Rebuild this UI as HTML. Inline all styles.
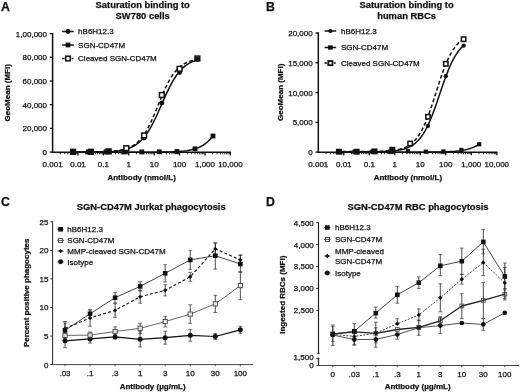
<!DOCTYPE html>
<html><head><meta charset="utf-8"><title>Figure</title>
<style>html,body{margin:0;padding:0;background:#fff}svg{display:block}text{font-family:"Liberation Sans",Arial,sans-serif;stroke:#111;stroke-width:0.25px}</style>
</head><body>
<svg width="520" height="392" viewBox="0 0 520 392">
<rect width="520" height="392" fill="#fff"/>
<text x="1" y="10.6" font-size="12.3" font-weight="bold" fill="#111">A</text>
<text x="142.7" y="7.6" font-size="9.4" text-anchor="middle" font-weight="bold" fill="#111">Saturation binding to</text>
<text x="142.7" y="18.8" font-size="9.4" text-anchor="middle" font-weight="bold" fill="#111">SW780 cells</text>
<line x1="52.6" y1="32.9" x2="52.6" y2="153" stroke="#111" stroke-width="1.5"/>
<line x1="51.9" y1="152.3" x2="231" y2="152.3" stroke="#111" stroke-width="1.5"/>
<line x1="49.8" y1="33.6" x2="52.6" y2="33.6" stroke="#111" stroke-width="1.3"/>
<text x="47" y="36.5" font-size="8" text-anchor="end" fill="#111">1,00,000</text>
<line x1="49.8" y1="57.3" x2="52.6" y2="57.3" stroke="#111" stroke-width="1.3"/>
<text x="47" y="60.2" font-size="8" text-anchor="end" fill="#111">80,000</text>
<line x1="49.8" y1="81" x2="52.6" y2="81" stroke="#111" stroke-width="1.3"/>
<text x="47" y="83.9" font-size="8" text-anchor="end" fill="#111">60,000</text>
<line x1="49.8" y1="104.7" x2="52.6" y2="104.7" stroke="#111" stroke-width="1.3"/>
<text x="47" y="107.6" font-size="8" text-anchor="end" fill="#111">40,000</text>
<line x1="49.8" y1="128.4" x2="52.6" y2="128.4" stroke="#111" stroke-width="1.3"/>
<text x="47" y="131.3" font-size="8" text-anchor="end" fill="#111">20,000</text>
<line x1="49.8" y1="152.1" x2="52.6" y2="152.1" stroke="#111" stroke-width="1.3"/>
<text x="47" y="155" font-size="8" text-anchor="end" fill="#111">0</text>
<text x="52.6" y="166.7" font-size="8" text-anchor="middle" fill="#111">0.001</text>
<text x="78" y="166.7" font-size="8" text-anchor="middle" fill="#111">0.01</text>
<text x="103.4" y="166.7" font-size="8" text-anchor="middle" fill="#111">0.1</text>
<text x="128.8" y="166.7" font-size="8" text-anchor="middle" fill="#111">1</text>
<text x="154.2" y="166.7" font-size="8" text-anchor="middle" fill="#111">10</text>
<text x="179.6" y="166.7" font-size="8" text-anchor="middle" fill="#111">100</text>
<text x="205" y="166.7" font-size="8" text-anchor="middle" fill="#111">1,000</text>
<text x="230.4" y="166.7" font-size="8" text-anchor="middle" fill="#111">10,000</text>
<path d="M78 155.4V152.3M103.4 155.4V152.3M128.8 155.4V152.3M154.2 155.4V152.3M179.6 155.4V152.3M205 155.4V152.3M230.4 155.4V152.3" stroke="#111" stroke-width="1.3" fill="none"/>
<path d="M60.25 154.3V152.3M64.72 154.3V152.3M67.89 154.3V152.3M70.35 154.3V152.3M72.37 154.3V152.3M74.07 154.3V152.3M75.54 154.3V152.3M76.84 154.3V152.3M85.65 154.3V152.3M90.12 154.3V152.3M93.29 154.3V152.3M95.75 154.3V152.3M97.77 154.3V152.3M99.47 154.3V152.3M100.94 154.3V152.3M102.24 154.3V152.3M111.05 154.3V152.3M115.52 154.3V152.3M118.69 154.3V152.3M121.15 154.3V152.3M123.17 154.3V152.3M124.87 154.3V152.3M126.34 154.3V152.3M127.64 154.3V152.3M136.45 154.3V152.3M140.92 154.3V152.3M144.09 154.3V152.3M146.55 154.3V152.3M148.57 154.3V152.3M150.27 154.3V152.3M151.74 154.3V152.3M153.04 154.3V152.3M161.85 154.3V152.3M166.32 154.3V152.3M169.49 154.3V152.3M171.95 154.3V152.3M173.97 154.3V152.3M175.67 154.3V152.3M177.14 154.3V152.3M178.44 154.3V152.3M187.25 154.3V152.3M191.72 154.3V152.3M194.89 154.3V152.3M197.35 154.3V152.3M199.37 154.3V152.3M201.07 154.3V152.3M202.54 154.3V152.3M203.84 154.3V152.3M212.65 154.3V152.3M217.12 154.3V152.3M220.29 154.3V152.3M222.75 154.3V152.3M224.77 154.3V152.3M226.47 154.3V152.3M227.94 154.3V152.3M229.24 154.3V152.3" stroke="#111" stroke-width="0.9" fill="none"/>
<text x="141.6" y="180" font-size="8" text-anchor="middle" font-weight="bold" fill="#111">Antibody (nmol/L)</text>
<text x="10.4" y="92.8" font-size="8" text-anchor="middle" font-weight="bold" fill="#111" transform="rotate(-90 10.4 92.8)">GeoMean (MFI)</text>
<polyline points="70.38,152.28 72.5,152.28 74.61,152.28 76.73,152.27 78.84,152.27 80.96,152.26 83.08,152.25 85.19,152.24 87.31,152.22 89.43,152.21 91.54,152.18 93.66,152.16 95.77,152.13 97.89,152.09 100.01,152.04 102.12,151.98 104.24,151.91 106.36,151.82 108.47,151.72 110.59,151.59 112.7,151.43 114.82,151.24 116.94,151 119.05,150.71 121.17,150.36 123.29,149.93 125.4,149.42 127.52,148.79 129.63,148.04 131.75,147.13 133.87,146.04 135.98,144.74 138.1,143.2 140.22,141.38 142.33,139.26 144.45,136.8 146.56,133.98 148.68,130.79 150.8,127.21 152.91,123.28 155.03,119.03 157.15,114.51 159.26,109.79 161.38,104.97 163.49,100.15 165.61,95.41 167.73,90.86 169.84,86.57 171.96,82.6 174.08,78.98 176.19,75.73 178.31,72.86 180.42,70.36 182.54,68.19 184.66,66.34 186.77,64.77 188.89,63.44 191.01,62.32 193.12,61.39 195.24,60.62 197.35,59.98" fill="none" stroke="#111" stroke-width="1.5" stroke-linejoin="round"/>
<polyline points="70.38,151.89 72.5,151.89 74.61,151.89 76.73,151.88 78.84,151.88 80.96,151.87 83.08,151.87 85.19,151.86 87.31,151.85 89.43,151.83 91.54,151.82 93.66,151.79 95.77,151.77 97.89,151.73 100.01,151.69 102.12,151.64 104.24,151.58 106.36,151.5 108.47,151.4 110.59,151.28 112.7,151.12 114.82,150.93 116.94,150.69 119.05,150.39 121.17,150.03 123.29,149.57 125.4,149.01 127.52,148.31 129.63,147.46 131.75,146.42 133.87,145.15 135.98,143.62 138.1,141.78 140.22,139.59 142.33,137.01 144.45,134.01 146.56,130.56 148.68,126.67 150.8,122.36 152.91,117.69 155.03,112.72 157.15,107.57 159.26,102.36 161.38,97.21 163.49,92.25 165.61,87.58 167.73,83.28 169.84,79.4 171.96,75.96 174.08,72.96 176.19,70.38 178.31,68.2 180.42,66.36 182.54,64.83 184.66,63.57 186.77,62.53 188.89,61.68 191.01,60.99 193.12,60.43 195.24,59.98 197.35,59.61" fill="none" stroke="#111" stroke-width="1.5" stroke-dasharray="3.8,2.4" stroke-linejoin="round"/>
<polyline points="70.38,152.3 72.75,152.3 75.12,152.3 77.49,152.3 79.86,152.3 82.24,152.3 84.61,152.3 86.98,152.3 89.35,152.3 91.72,152.3 94.09,152.3 96.46,152.3 98.83,152.3 101.2,152.3 103.58,152.3 105.95,152.3 108.32,152.3 110.69,152.3 113.06,152.3 115.43,152.3 117.8,152.3 120.17,152.3 122.54,152.3 124.92,152.29 127.29,152.29 129.66,152.29 132.03,152.29 134.4,152.29 136.77,152.28 139.14,152.28 141.51,152.27 143.88,152.27 146.26,152.26 148.63,152.25 151,152.23 153.37,152.22 155.74,152.2 158.11,152.17 160.48,152.14 162.85,152.11 165.22,152.06 167.6,152 169.97,151.93 172.34,151.85 174.71,151.74 177.08,151.6 179.45,151.44 181.82,151.23 184.19,150.98 186.56,150.66 188.94,150.27 191.31,149.79 193.68,149.2 196.05,148.48 198.42,147.58 200.79,146.49 203.16,145.15 205.53,143.53 207.9,141.55 210.28,139.17 212.65,136.3" fill="none" stroke="#111" stroke-width="1.5" stroke-linejoin="round"/>
<circle cx="73.08" cy="152" r="2.45" fill="#111"/>
<circle cx="90.83" cy="152" r="2.45" fill="#111"/>
<circle cx="108.58" cy="151.8" r="2.45" fill="#111"/>
<circle cx="126.34" cy="149.5" r="2.45" fill="#111"/>
<circle cx="144.09" cy="138" r="2.45" fill="#111"/>
<circle cx="161.85" cy="103" r="2.45" fill="#111"/>
<circle cx="179.6" cy="72.5" r="2.45" fill="#111"/>
<circle cx="197.35" cy="59.3" r="2.45" fill="#111"/>
<rect x="85.9" y="149.5" width="4.8" height="4.8" fill="#111"/>
<rect x="103.7" y="149.5" width="4.8" height="4.8" fill="#111"/>
<rect x="121.6" y="149.5" width="4.8" height="4.8" fill="#111"/>
<rect x="139.35" y="149.5" width="4.8" height="4.8" fill="#111"/>
<rect x="156.85" y="149.4" width="4.8" height="4.8" fill="#111"/>
<rect x="174.6" y="149.1" width="4.8" height="4.8" fill="#111"/>
<rect x="192.6" y="146.4" width="4.8" height="4.8" fill="#111"/>
<rect x="210.6" y="133.6" width="4.8" height="4.8" fill="#111"/>
<rect x="70.68" y="149.4" width="4.8" height="4.8" fill="#111" stroke="#111" stroke-width="1.5"/>
<rect x="88.43" y="149.4" width="4.8" height="4.8" fill="#111" stroke="#111" stroke-width="1.5"/>
<rect x="106.18" y="149" width="4.8" height="4.8" fill="#111" stroke="#111" stroke-width="1.5"/>
<rect x="123.94" y="145.8" width="4.8" height="4.8" fill="#fff" stroke="#111" stroke-width="1.5"/>
<rect x="141.69" y="133.1" width="4.8" height="4.8" fill="#fff" stroke="#111" stroke-width="1.5"/>
<rect x="159.45" y="92.6" width="4.8" height="4.8" fill="#fff" stroke="#111" stroke-width="1.5"/>
<rect x="177.2" y="66.4" width="4.8" height="4.8" fill="#fff" stroke="#111" stroke-width="1.5"/>
<rect x="194.95" y="56.1" width="4.8" height="4.8" fill="none" stroke="#111" stroke-width="1.5"/>
<line x1="62.2" y1="31.5" x2="73.8" y2="31.5" stroke="#111" stroke-width="1.5"/>
<circle cx="68" cy="31.5" r="2.4" fill="#111"/>
<text x="78.1" y="34.4" font-size="8" fill="#111">hB6H12.3</text>
<line x1="62.2" y1="45" x2="73.8" y2="45" stroke="#111" stroke-width="1.5"/>
<rect x="65.65" y="42.65" width="4.7" height="4.7" fill="#111"/>
<text x="78.1" y="47.9" font-size="8" fill="#111">SGN-CD47M</text>
<line x1="62.2" y1="58.5" x2="64.6" y2="58.5" stroke="#111" stroke-width="1.5"/>
<line x1="71.6" y1="58.5" x2="73.4" y2="58.5" stroke="#111" stroke-width="1.5"/>
<rect x="65.7" y="56.2" width="4.6" height="4.6" fill="#fff" stroke="#111" stroke-width="1.5"/>
<text x="78.1" y="61.4" font-size="8" fill="#111">Cleaved SGN-CD47M</text>
<text x="266" y="10.6" font-size="12.3" font-weight="bold" fill="#111">B</text>
<text x="406.6" y="7.6" font-size="9.4" text-anchor="middle" font-weight="bold" fill="#111">Saturation binding to</text>
<text x="406.6" y="18.8" font-size="9.4" text-anchor="middle" font-weight="bold" fill="#111">human RBCs</text>
<line x1="318.3" y1="32.3" x2="318.3" y2="152.9" stroke="#111" stroke-width="1.5"/>
<line x1="317.6" y1="152.2" x2="497.4" y2="152.2" stroke="#111" stroke-width="1.5"/>
<line x1="315.5" y1="33" x2="318.3" y2="33" stroke="#111" stroke-width="1.3"/>
<text x="312.7" y="35.9" font-size="8" text-anchor="end" fill="#111">20,000</text>
<line x1="315.5" y1="62.8" x2="318.3" y2="62.8" stroke="#111" stroke-width="1.3"/>
<text x="312.7" y="65.7" font-size="8" text-anchor="end" fill="#111">15,000</text>
<line x1="315.5" y1="92.6" x2="318.3" y2="92.6" stroke="#111" stroke-width="1.3"/>
<text x="312.7" y="95.5" font-size="8" text-anchor="end" fill="#111">10,000</text>
<line x1="315.5" y1="122.4" x2="318.3" y2="122.4" stroke="#111" stroke-width="1.3"/>
<text x="312.7" y="125.3" font-size="8" text-anchor="end" fill="#111">5,000</text>
<line x1="315.5" y1="152.1" x2="318.3" y2="152.1" stroke="#111" stroke-width="1.3"/>
<text x="312.7" y="155" font-size="8" text-anchor="end" fill="#111">0</text>
<text x="318.3" y="166.7" font-size="8" text-anchor="middle" fill="#111">0.001</text>
<text x="343.8" y="166.7" font-size="8" text-anchor="middle" fill="#111">0.01</text>
<text x="369.3" y="166.7" font-size="8" text-anchor="middle" fill="#111">0.1</text>
<text x="394.8" y="166.7" font-size="8" text-anchor="middle" fill="#111">1</text>
<text x="420.3" y="166.7" font-size="8" text-anchor="middle" fill="#111">10</text>
<text x="445.8" y="166.7" font-size="8" text-anchor="middle" fill="#111">100</text>
<text x="471.3" y="166.7" font-size="8" text-anchor="middle" fill="#111">1,000</text>
<text x="496.8" y="166.7" font-size="8" text-anchor="middle" fill="#111">10,000</text>
<path d="M343.8 155.3V152.2M369.3 155.3V152.2M394.8 155.3V152.2M420.3 155.3V152.2M445.8 155.3V152.2M471.3 155.3V152.2M496.8 155.3V152.2" stroke="#111" stroke-width="1.3" fill="none"/>
<path d="M325.98 154.2V152.2M330.47 154.2V152.2M333.65 154.2V152.2M336.12 154.2V152.2M338.14 154.2V152.2M339.85 154.2V152.2M341.33 154.2V152.2M342.63 154.2V152.2M351.48 154.2V152.2M355.97 154.2V152.2M359.15 154.2V152.2M361.62 154.2V152.2M363.64 154.2V152.2M365.35 154.2V152.2M366.83 154.2V152.2M368.13 154.2V152.2M376.98 154.2V152.2M381.47 154.2V152.2M384.65 154.2V152.2M387.12 154.2V152.2M389.14 154.2V152.2M390.85 154.2V152.2M392.33 154.2V152.2M393.63 154.2V152.2M402.48 154.2V152.2M406.97 154.2V152.2M410.15 154.2V152.2M412.62 154.2V152.2M414.64 154.2V152.2M416.35 154.2V152.2M417.83 154.2V152.2M419.13 154.2V152.2M427.98 154.2V152.2M432.47 154.2V152.2M435.65 154.2V152.2M438.12 154.2V152.2M440.14 154.2V152.2M441.85 154.2V152.2M443.33 154.2V152.2M444.63 154.2V152.2M453.48 154.2V152.2M457.97 154.2V152.2M461.15 154.2V152.2M463.62 154.2V152.2M465.64 154.2V152.2M467.35 154.2V152.2M468.83 154.2V152.2M470.13 154.2V152.2M478.98 154.2V152.2M483.47 154.2V152.2M486.65 154.2V152.2M489.12 154.2V152.2M491.14 154.2V152.2M492.85 154.2V152.2M494.33 154.2V152.2M495.63 154.2V152.2" stroke="#111" stroke-width="0.9" fill="none"/>
<text x="407.9" y="180" font-size="8" text-anchor="middle" font-weight="bold" fill="#111">Antibody (nmol/L)</text>
<text x="282.8" y="92.3" font-size="8" text-anchor="middle" font-weight="bold" fill="#111" transform="rotate(-90 282.8 92.3)">GeoMean (MFI)</text>
<polyline points="336.15,151.9 338.27,151.9 340.4,151.9 342.52,151.89 344.65,151.89 346.77,151.89 348.9,151.89 351.02,151.89 353.15,151.88 355.27,151.88 357.4,151.87 359.52,151.87 361.64,151.86 363.77,151.85 365.89,151.84 368.02,151.83 370.14,151.81 372.27,151.79 374.39,151.76 376.52,151.72 378.64,151.68 380.77,151.63 382.89,151.56 385.01,151.48 387.14,151.37 389.26,151.25 391.39,151.09 393.51,150.89 395.64,150.65 397.76,150.35 399.89,149.98 402.01,149.52 404.14,148.96 406.26,148.27 408.39,147.42 410.51,146.38 412.63,145.12 414.76,143.59 416.88,141.74 419.01,139.54 421.13,136.92 423.26,133.84 425.38,130.27 427.51,126.18 429.63,121.57 431.76,116.46 433.88,110.9 436,104.97 438.13,98.81 440.25,92.53 442.38,86.29 444.5,80.23 446.63,74.48 448.75,69.15 450.88,64.28 453,59.94 455.13,56.12 457.25,52.81 459.37,49.98 461.5,47.58 463.62,45.56" fill="none" stroke="#111" stroke-width="1.5" stroke-linejoin="round"/>
<polyline points="336.15,151.6 338.27,151.6 340.4,151.6 342.52,151.59 344.65,151.59 346.77,151.59 348.9,151.59 351.02,151.59 353.15,151.58 355.27,151.58 357.4,151.57 359.52,151.57 361.64,151.56 363.77,151.55 365.89,151.53 368.02,151.51 370.14,151.49 372.27,151.47 374.39,151.43 376.52,151.39 378.64,151.34 380.77,151.27 382.89,151.18 385.01,151.08 387.14,150.95 389.26,150.79 391.39,150.58 393.51,150.33 395.64,150.01 397.76,149.61 399.89,149.12 402.01,148.51 404.14,147.75 406.26,146.82 408.39,145.67 410.51,144.26 412.63,142.54 414.76,140.47 416.88,137.97 419.01,135.01 421.13,131.52 423.26,127.47 425.38,122.84 427.51,117.65 429.63,111.93 431.76,105.77 433.88,99.29 436,92.63 438.13,85.97 440.25,79.46 442.38,73.26 444.5,67.5 446.63,62.25 448.75,57.56 450.88,53.46 453,49.92 455.13,46.9 457.25,44.36 459.37,42.25 461.5,40.5 463.62,39.06" fill="none" stroke="#111" stroke-width="1.5" stroke-dasharray="3.8,2.4" stroke-linejoin="round"/>
<polyline points="336.15,152.2 338.53,152.2 340.91,152.2 343.29,152.2 345.67,152.2 348.05,152.2 350.43,152.2 352.81,152.2 355.19,152.2 357.57,152.2 359.95,152.2 362.33,152.2 364.72,152.2 367.1,152.2 369.48,152.2 371.86,152.2 374.24,152.2 376.62,152.2 379,152.2 381.38,152.2 383.76,152.2 386.14,152.2 388.52,152.2 390.9,152.2 393.28,152.2 395.66,152.2 398.04,152.19 400.42,152.19 402.8,152.19 405.18,152.19 407.56,152.19 409.94,152.18 412.32,152.18 414.7,152.17 417.08,152.17 419.47,152.16 421.85,152.15 424.23,152.14 426.61,152.12 428.99,152.11 431.37,152.08 433.75,152.06 436.13,152.02 438.51,151.98 440.89,151.93 443.27,151.86 445.65,151.78 448.03,151.68 450.41,151.56 452.79,151.4 455.17,151.22 457.55,150.98 459.93,150.69 462.31,150.34 464.69,149.9 467.07,149.36 469.45,148.7 471.83,147.89 474.22,146.91 476.6,145.71 478.98,144.25" fill="none" stroke="#111" stroke-width="1.5" stroke-linejoin="round"/>
<circle cx="338.86" cy="152" r="2.156" fill="#111"/>
<circle cx="356.68" cy="152" r="2.156" fill="#111"/>
<circle cx="374.51" cy="151.9" r="2.156" fill="#111"/>
<circle cx="392.33" cy="151.4" r="2.156" fill="#111"/>
<circle cx="410.15" cy="144.75" r="2.156" fill="#111"/>
<circle cx="427.98" cy="126" r="2.156" fill="#111"/>
<circle cx="445.8" cy="76.25" r="2.156" fill="#111"/>
<circle cx="463.62" cy="45.7" r="2.156" fill="#111"/>
<rect x="352.39" y="149.59" width="4.22" height="4.22" fill="#111"/>
<rect x="370.19" y="149.59" width="4.22" height="4.22" fill="#111"/>
<rect x="387.99" y="149.49" width="4.22" height="4.22" fill="#111"/>
<rect x="405.89" y="149.09" width="4.22" height="4.22" fill="#111"/>
<rect x="423.69" y="149.59" width="4.22" height="4.22" fill="#111"/>
<rect x="441.39" y="149.39" width="4.22" height="4.22" fill="#111"/>
<rect x="459.29" y="147.89" width="4.22" height="4.22" fill="#111"/>
<rect x="477.09" y="142.14" width="4.22" height="4.22" fill="#111"/>
<rect x="336.66" y="149.5" width="4.4" height="4.4" fill="#111" stroke="#111" stroke-width="1.5"/>
<rect x="354.48" y="149.5" width="4.4" height="4.4" fill="#111" stroke="#111" stroke-width="1.5"/>
<rect x="372.31" y="149.2" width="4.4" height="4.4" fill="#111" stroke="#111" stroke-width="1.5"/>
<rect x="390.13" y="147.5" width="4.4" height="4.4" fill="#111" stroke="#111" stroke-width="1.5"/>
<rect x="407.95" y="141.3" width="4.4" height="4.4" fill="#fff" stroke="#111" stroke-width="1.5"/>
<rect x="425.78" y="114.55" width="4.4" height="4.4" fill="#fff" stroke="#111" stroke-width="1.5"/>
<rect x="443.6" y="61.6" width="4.4" height="4.4" fill="#fff" stroke="#111" stroke-width="1.5"/>
<rect x="461.42" y="37" width="4.4" height="4.4" fill="#fff" stroke="#111" stroke-width="1.5"/>
<line x1="324.6" y1="31" x2="336.2" y2="31" stroke="#111" stroke-width="1.5"/>
<circle cx="330.4" cy="31" r="2.112" fill="#111"/>
<text x="341" y="33.9" font-size="8" fill="#111">hB6H12.3</text>
<line x1="324.6" y1="47.5" x2="336.2" y2="47.5" stroke="#111" stroke-width="1.5"/>
<rect x="328.05" y="45.35" width="4.7" height="4.3" fill="#111"/>
<text x="341" y="50.4" font-size="8" fill="#111">SGN-CD47M</text>
<line x1="324.6" y1="63.1" x2="327" y2="63.1" stroke="#111" stroke-width="1.5"/>
<line x1="334" y1="63.1" x2="335.8" y2="63.1" stroke="#111" stroke-width="1.5"/>
<rect x="328.3" y="61" width="4.2" height="4.2" fill="#fff" stroke="#111" stroke-width="1.8"/>
<text x="341" y="66" font-size="8" fill="#111">Cleaved SGN-CD47M</text>
<text x="1" y="206" font-size="12.3" font-weight="bold" fill="#111">C</text>
<text x="151.2" y="209.8" font-size="9.4" text-anchor="middle" font-weight="bold" fill="#111">SGN-CD47M Jurkat phagocytosis</text>
<line x1="52.6" y1="221.5" x2="52.6" y2="365" stroke="#222" stroke-width="1.0"/>
<line x1="52.1" y1="364.6" x2="253" y2="364.6" stroke="#333" stroke-width="0.9"/>
<line x1="50.3" y1="364.6" x2="52.6" y2="364.6" stroke="#222" stroke-width="0.9"/>
<text x="48.4" y="367.5" font-size="8" text-anchor="end" fill="#111">0</text>
<line x1="50.3" y1="336.05" x2="52.6" y2="336.05" stroke="#222" stroke-width="0.9"/>
<text x="48.4" y="338.95" font-size="8" text-anchor="end" fill="#111">5</text>
<line x1="50.3" y1="307.5" x2="52.6" y2="307.5" stroke="#222" stroke-width="0.9"/>
<text x="48.4" y="310.4" font-size="8" text-anchor="end" fill="#111">10</text>
<line x1="50.3" y1="278.95" x2="52.6" y2="278.95" stroke="#222" stroke-width="0.9"/>
<text x="48.4" y="281.85" font-size="8" text-anchor="end" fill="#111">15</text>
<line x1="50.3" y1="250.4" x2="52.6" y2="250.4" stroke="#222" stroke-width="0.9"/>
<text x="48.4" y="253.3" font-size="8" text-anchor="end" fill="#111">20</text>
<line x1="50.3" y1="221.85" x2="52.6" y2="221.85" stroke="#222" stroke-width="0.9"/>
<text x="48.4" y="224.75" font-size="8" text-anchor="end" fill="#111">25</text>
<line x1="65" y1="364.6" x2="65" y2="366.3" stroke="#333" stroke-width="0.8"/>
<text x="65" y="376.2" font-size="8" text-anchor="middle" fill="#111">.03</text>
<line x1="90.05" y1="364.6" x2="90.05" y2="366.3" stroke="#333" stroke-width="0.8"/>
<text x="90.05" y="376.2" font-size="8" text-anchor="middle" fill="#111">.1</text>
<line x1="115.1" y1="364.6" x2="115.1" y2="366.3" stroke="#333" stroke-width="0.8"/>
<text x="115.1" y="376.2" font-size="8" text-anchor="middle" fill="#111">.3</text>
<line x1="140.15" y1="364.6" x2="140.15" y2="366.3" stroke="#333" stroke-width="0.8"/>
<text x="140.15" y="376.2" font-size="8" text-anchor="middle" fill="#111">1</text>
<line x1="165.2" y1="364.6" x2="165.2" y2="366.3" stroke="#333" stroke-width="0.8"/>
<text x="165.2" y="376.2" font-size="8" text-anchor="middle" fill="#111">3</text>
<line x1="190.25" y1="364.6" x2="190.25" y2="366.3" stroke="#333" stroke-width="0.8"/>
<text x="190.25" y="376.2" font-size="8" text-anchor="middle" fill="#111">10</text>
<line x1="215.3" y1="364.6" x2="215.3" y2="366.3" stroke="#333" stroke-width="0.8"/>
<text x="215.3" y="376.2" font-size="8" text-anchor="middle" fill="#111">30</text>
<line x1="240.35" y1="364.6" x2="240.35" y2="366.3" stroke="#333" stroke-width="0.8"/>
<text x="240.35" y="376.2" font-size="8" text-anchor="middle" fill="#111">100</text>
<text x="152.6" y="389.3" font-size="8" text-anchor="middle" font-weight="bold" fill="#111">Antibody (µg/mL)</text>
<text x="29.5" y="292.8" font-size="8" text-anchor="middle" font-weight="bold" fill="#111" transform="rotate(-90 29.5 292.8)">Percent positive phagocytes</text>
<path d="M65 323V337.6" stroke="#2a2a2a" stroke-width="0.85" fill="none"/>
<path d="M63.1 323H66.9M63.1 337.6H66.9" stroke="#444" stroke-width="0.75" fill="none"/>
<path d="M90.05 309.7V317.9" stroke="#2a2a2a" stroke-width="0.85" fill="none"/>
<path d="M88.15 309.7H91.95M88.15 317.9H91.95" stroke="#444" stroke-width="0.75" fill="none"/>
<path d="M115.1 292.3V303.1" stroke="#2a2a2a" stroke-width="0.85" fill="none"/>
<path d="M113.2 292.3H117M113.2 303.1H117" stroke="#444" stroke-width="0.75" fill="none"/>
<path d="M140.15 281.8V291" stroke="#2a2a2a" stroke-width="0.85" fill="none"/>
<path d="M138.25 281.8H142.05M138.25 291H142.05" stroke="#444" stroke-width="0.75" fill="none"/>
<path d="M165.2 264.7V281.9" stroke="#2a2a2a" stroke-width="0.85" fill="none"/>
<path d="M163.3 264.7H167.1M163.3 281.9H167.1" stroke="#444" stroke-width="0.75" fill="none"/>
<path d="M190.25 250.4V269.4" stroke="#2a2a2a" stroke-width="0.85" fill="none"/>
<path d="M188.35 250.4H192.15M188.35 269.4H192.15" stroke="#444" stroke-width="0.75" fill="none"/>
<path d="M215.3 242.3V269.1" stroke="#2a2a2a" stroke-width="0.85" fill="none"/>
<path d="M213.4 242.3H217.2M213.4 269.1H217.2" stroke="#444" stroke-width="0.75" fill="none"/>
<path d="M240.35 255.5V272.5" stroke="#2a2a2a" stroke-width="0.85" fill="none"/>
<path d="M238.45 255.5H242.25M238.45 272.5H242.25" stroke="#444" stroke-width="0.75" fill="none"/>
<path d="M65 331.9V338.9" stroke="#2a2a2a" stroke-width="0.85" fill="none"/>
<path d="M63.1 331.9H66.9M63.1 338.9H66.9" stroke="#444" stroke-width="0.75" fill="none"/>
<path d="M90.05 332.1V338.1" stroke="#2a2a2a" stroke-width="0.85" fill="none"/>
<path d="M88.15 332.1H91.95M88.15 338.1H91.95" stroke="#444" stroke-width="0.75" fill="none"/>
<path d="M115.1 326.9V336.1" stroke="#2a2a2a" stroke-width="0.85" fill="none"/>
<path d="M113.2 326.9H117M113.2 336.1H117" stroke="#444" stroke-width="0.75" fill="none"/>
<path d="M140.15 323.2V333.4" stroke="#2a2a2a" stroke-width="0.85" fill="none"/>
<path d="M138.25 323.2H142.05M138.25 333.4H142.05" stroke="#444" stroke-width="0.75" fill="none"/>
<path d="M165.2 316.3V326.9" stroke="#2a2a2a" stroke-width="0.85" fill="none"/>
<path d="M163.3 316.3H167.1M163.3 326.9H167.1" stroke="#444" stroke-width="0.75" fill="none"/>
<path d="M190.25 304.8V323.4" stroke="#2a2a2a" stroke-width="0.85" fill="none"/>
<path d="M188.35 304.8H192.15M188.35 323.4H192.15" stroke="#444" stroke-width="0.75" fill="none"/>
<path d="M215.3 295.3V312.5" stroke="#2a2a2a" stroke-width="0.85" fill="none"/>
<path d="M213.4 295.3H217.2M213.4 312.5H217.2" stroke="#444" stroke-width="0.75" fill="none"/>
<path d="M240.35 271.5V299.7" stroke="#2a2a2a" stroke-width="0.85" fill="none"/>
<path d="M238.45 271.5H242.25M238.45 299.7H242.25" stroke="#444" stroke-width="0.75" fill="none"/>
<path d="M65 321.5V335.5" stroke="#2a2a2a" stroke-width="0.85" fill="none"/>
<path d="M63.1 321.5H66.9M63.1 335.5H66.9" stroke="#444" stroke-width="0.75" fill="none"/>
<path d="M90.05 309.8V326.2" stroke="#2a2a2a" stroke-width="0.85" fill="none"/>
<path d="M88.15 309.8H91.95M88.15 326.2H91.95" stroke="#444" stroke-width="0.75" fill="none"/>
<path d="M115.1 303.3V317.3" stroke="#2a2a2a" stroke-width="0.85" fill="none"/>
<path d="M113.2 303.3H117M113.2 317.3H117" stroke="#444" stroke-width="0.75" fill="none"/>
<path d="M140.15 290.4V303.2" stroke="#2a2a2a" stroke-width="0.85" fill="none"/>
<path d="M138.25 290.4H142.05M138.25 303.2H142.05" stroke="#444" stroke-width="0.75" fill="none"/>
<path d="M165.2 284.7V295.9" stroke="#2a2a2a" stroke-width="0.85" fill="none"/>
<path d="M163.3 284.7H167.1M163.3 295.9H167.1" stroke="#444" stroke-width="0.75" fill="none"/>
<path d="M190.25 272.3V281.3" stroke="#2a2a2a" stroke-width="0.85" fill="none"/>
<path d="M188.35 272.3H192.15M188.35 281.3H192.15" stroke="#444" stroke-width="0.75" fill="none"/>
<path d="M215.3 243.3V254.5" stroke="#2a2a2a" stroke-width="0.85" fill="none"/>
<path d="M213.4 243.3H217.2M213.4 254.5H217.2" stroke="#444" stroke-width="0.75" fill="none"/>
<path d="M240.35 254.8V265" stroke="#2a2a2a" stroke-width="0.85" fill="none"/>
<path d="M238.45 254.8H242.25M238.45 265H242.25" stroke="#444" stroke-width="0.75" fill="none"/>
<path d="M65 333.9V347.7" stroke="#2a2a2a" stroke-width="0.85" fill="none"/>
<path d="M63.1 333.9H66.9M63.1 347.7H66.9" stroke="#444" stroke-width="0.75" fill="none"/>
<path d="M90.05 334.7V343.1" stroke="#2a2a2a" stroke-width="0.85" fill="none"/>
<path d="M88.15 334.7H91.95M88.15 343.1H91.95" stroke="#444" stroke-width="0.75" fill="none"/>
<path d="M115.1 334.9V338.9" stroke="#2a2a2a" stroke-width="0.85" fill="none"/>
<path d="M113.2 334.9H117M113.2 338.9H117" stroke="#444" stroke-width="0.75" fill="none"/>
<path d="M140.15 331.7V346.9" stroke="#2a2a2a" stroke-width="0.85" fill="none"/>
<path d="M138.25 331.7H142.05M138.25 346.9H142.05" stroke="#444" stroke-width="0.75" fill="none"/>
<path d="M165.2 331.2V344.2" stroke="#2a2a2a" stroke-width="0.85" fill="none"/>
<path d="M163.3 331.2H167.1M163.3 344.2H167.1" stroke="#444" stroke-width="0.75" fill="none"/>
<path d="M190.25 329.4V341.2" stroke="#2a2a2a" stroke-width="0.85" fill="none"/>
<path d="M188.35 329.4H192.15M188.35 341.2H192.15" stroke="#444" stroke-width="0.75" fill="none"/>
<path d="M215.3 333.5V339.5" stroke="#2a2a2a" stroke-width="0.85" fill="none"/>
<path d="M213.4 333.5H217.2M213.4 339.5H217.2" stroke="#444" stroke-width="0.75" fill="none"/>
<path d="M240.35 326.3V333.3" stroke="#2a2a2a" stroke-width="0.85" fill="none"/>
<path d="M238.45 326.3H242.25M238.45 333.3H242.25" stroke="#444" stroke-width="0.75" fill="none"/>
<polyline points="65,330.3 90.05,313.8 115.1,297.7 140.15,286.4 165.2,273.3 190.25,259.9 215.3,255.7 240.35,264" fill="none" stroke="#333" stroke-width="0.9" stroke-linejoin="round"/>
<polyline points="65,335.4 90.05,335.1 115.1,331.5 140.15,328.3 165.2,321.6 190.25,314.1 215.3,303.9 240.35,285.6" fill="none" stroke="#555" stroke-width="0.9" stroke-linejoin="round"/>
<polyline points="65,328.5 90.05,318 115.1,310.3 140.15,296.8 165.2,290.3 190.25,276.8 215.3,248.9 240.35,259.9" fill="none" stroke="#111" stroke-width="1.1" stroke-dasharray="3,2.1" stroke-linejoin="round"/>
<polyline points="65,340.8 90.05,338.9 115.1,336.9 140.15,339.3 165.2,337.7 190.25,335.3 215.3,336.5 240.35,329.8" fill="none" stroke="#111" stroke-width="1.2" stroke-linejoin="round"/>
<circle cx="65" cy="340.8" r="2.5" fill="#111"/>
<circle cx="90.05" cy="338.9" r="2.5" fill="#111"/>
<circle cx="115.1" cy="336.9" r="2.5" fill="#111"/>
<circle cx="140.15" cy="339.3" r="2.5" fill="#111"/>
<circle cx="165.2" cy="337.7" r="2.5" fill="#111"/>
<circle cx="190.25" cy="335.3" r="2.5" fill="#111"/>
<circle cx="215.3" cy="336.5" r="2.5" fill="#111"/>
<circle cx="240.35" cy="329.8" r="2.5" fill="#111"/>
<rect x="62.9" y="333.3" width="4.2" height="4.2" fill="rgba(255,255,255,0.8)" stroke="#444" stroke-width="0.9"/>
<rect x="87.95" y="333" width="4.2" height="4.2" fill="rgba(255,255,255,0.8)" stroke="#444" stroke-width="0.9"/>
<rect x="113" y="329.4" width="4.2" height="4.2" fill="rgba(255,255,255,0.8)" stroke="#444" stroke-width="0.9"/>
<rect x="138.05" y="326.2" width="4.2" height="4.2" fill="rgba(255,255,255,0.8)" stroke="#444" stroke-width="0.9"/>
<rect x="163.1" y="319.5" width="4.2" height="4.2" fill="rgba(255,255,255,0.8)" stroke="#444" stroke-width="0.9"/>
<rect x="188.15" y="312" width="4.2" height="4.2" fill="rgba(255,255,255,0.8)" stroke="#444" stroke-width="0.9"/>
<rect x="213.2" y="301.8" width="4.2" height="4.2" fill="rgba(255,255,255,0.8)" stroke="#444" stroke-width="0.9"/>
<rect x="238.25" y="283.5" width="4.2" height="4.2" fill="rgba(255,255,255,0.8)" stroke="#444" stroke-width="0.9"/>
<polygon points="65,326.4 67.1,328.5 65,330.6 62.9,328.5" fill="#111"/>
<polygon points="90.05,315.9 92.15,318 90.05,320.1 87.95,318" fill="#111"/>
<polygon points="115.1,308.2 117.2,310.3 115.1,312.4 113,310.3" fill="#111"/>
<polygon points="140.15,294.7 142.25,296.8 140.15,298.9 138.05,296.8" fill="#111"/>
<polygon points="165.2,288.2 167.3,290.3 165.2,292.4 163.1,290.3" fill="#111"/>
<polygon points="190.25,274.7 192.35,276.8 190.25,278.9 188.15,276.8" fill="#111"/>
<polygon points="215.3,246.8 217.4,248.9 215.3,251 213.2,248.9" fill="#111"/>
<polygon points="240.35,257.8 242.45,259.9 240.35,262 238.25,259.9" fill="#111"/>
<rect x="62.7" y="328" width="4.6" height="4.6" fill="#111"/>
<rect x="87.75" y="311.5" width="4.6" height="4.6" fill="#111"/>
<rect x="112.8" y="295.4" width="4.6" height="4.6" fill="#111"/>
<rect x="137.85" y="284.1" width="4.6" height="4.6" fill="#111"/>
<rect x="162.9" y="271" width="4.6" height="4.6" fill="#111"/>
<rect x="187.95" y="257.6" width="4.6" height="4.6" fill="#111"/>
<rect x="213" y="253.4" width="4.6" height="4.6" fill="#111"/>
<rect x="238.05" y="261.7" width="4.6" height="4.6" fill="#111"/>
<line x1="57.4" y1="229.3" x2="63.8" y2="229.3" stroke="#333" stroke-width="0.8"/>
<rect x="58.2" y="227.05" width="4.8" height="4.5" fill="#111"/>
<text x="67.3" y="232" font-size="8" fill="#111">hB6H12.3</text>
<line x1="57.4" y1="240.1" x2="63.8" y2="240.1" stroke="#333" stroke-width="0.8"/>
<rect x="58.5" y="238.5" width="4" height="4" fill="#fff" stroke="#444" stroke-width="0.9"/>
<line x1="57.4" y1="240.5" x2="63.8" y2="240.5" stroke="#444" stroke-width="0.8"/>
<text x="67.3" y="242.8" font-size="8" fill="#111">SGN-CD47M</text>
<line x1="57.4" y1="251.1" x2="63.8" y2="251.1" stroke="#333" stroke-width="0.8"/>
<polygon points="60.6,248.9 62.8,251.1 60.6,253.3 58.4,251.1" fill="#111"/>
<text x="67.3" y="253.8" font-size="8" fill="#111">MMP-cleaved SGN-CD47M</text>
<line x1="57.4" y1="261.8" x2="63.8" y2="261.8" stroke="#333" stroke-width="0.8"/>
<circle cx="60.6" cy="261.8" r="2.45" fill="#111"/>
<text x="67.3" y="264.5" font-size="8" fill="#111">Isotype</text>
<text x="266" y="206" font-size="12.3" font-weight="bold" fill="#111">D</text>
<text x="418" y="209.8" font-size="9.4" text-anchor="middle" font-weight="bold" fill="#111">SGN-CD47M RBC phagocytosis</text>
<line x1="318.5" y1="222.2" x2="318.5" y2="354" stroke="#222" stroke-width="1.2"/>
<line x1="318.5" y1="357.9" x2="318.5" y2="365.9" stroke="#222" stroke-width="1.2"/>
<line x1="317.3" y1="353.6" x2="319.7" y2="353.6" stroke="#222" stroke-width="1.0"/>
<line x1="316.3" y1="365.5" x2="519" y2="365.5" stroke="#333" stroke-width="0.9"/>
<line x1="316.1" y1="222.7" x2="318.5" y2="222.7" stroke="#222" stroke-width="0.9"/>
<text x="313.8" y="225.6" font-size="8" text-anchor="end" fill="#111">4,500</text>
<line x1="316.1" y1="244.6" x2="318.5" y2="244.6" stroke="#222" stroke-width="0.9"/>
<text x="313.8" y="247.5" font-size="8" text-anchor="end" fill="#111">4,000</text>
<line x1="316.1" y1="266.5" x2="318.5" y2="266.5" stroke="#222" stroke-width="0.9"/>
<text x="313.8" y="269.4" font-size="8" text-anchor="end" fill="#111">3,500</text>
<line x1="316.1" y1="288.4" x2="318.5" y2="288.4" stroke="#222" stroke-width="0.9"/>
<text x="313.8" y="291.3" font-size="8" text-anchor="end" fill="#111">3,000</text>
<line x1="316.1" y1="310.3" x2="318.5" y2="310.3" stroke="#222" stroke-width="0.9"/>
<text x="313.8" y="313.2" font-size="8" text-anchor="end" fill="#111">2,500</text>
<line x1="316.3" y1="358.4" x2="319.5" y2="358.4" stroke="#222" stroke-width="1.0"/>
<text x="313.6" y="360.3" font-size="8" text-anchor="end" fill="#111">1,500</text>
<text x="313.6" y="368.1" font-size="8" text-anchor="end" fill="#111">0</text>
<line x1="332.8" y1="365.5" x2="332.8" y2="367.2" stroke="#333" stroke-width="0.8"/>
<text x="332.8" y="376.7" font-size="8" text-anchor="middle" fill="#111">0</text>
<line x1="354.3" y1="365.5" x2="354.3" y2="367.2" stroke="#333" stroke-width="0.8"/>
<text x="354.3" y="376.7" font-size="8" text-anchor="middle" fill="#111">.03</text>
<line x1="375.8" y1="365.5" x2="375.8" y2="367.2" stroke="#333" stroke-width="0.8"/>
<text x="375.8" y="376.7" font-size="8" text-anchor="middle" fill="#111">.1</text>
<line x1="397.3" y1="365.5" x2="397.3" y2="367.2" stroke="#333" stroke-width="0.8"/>
<text x="397.3" y="376.7" font-size="8" text-anchor="middle" fill="#111">.3</text>
<line x1="418.8" y1="365.5" x2="418.8" y2="367.2" stroke="#333" stroke-width="0.8"/>
<text x="418.8" y="376.7" font-size="8" text-anchor="middle" fill="#111">1</text>
<line x1="440.3" y1="365.5" x2="440.3" y2="367.2" stroke="#333" stroke-width="0.8"/>
<text x="440.3" y="376.7" font-size="8" text-anchor="middle" fill="#111">3</text>
<line x1="461.8" y1="365.5" x2="461.8" y2="367.2" stroke="#333" stroke-width="0.8"/>
<text x="461.8" y="376.7" font-size="8" text-anchor="middle" fill="#111">10</text>
<line x1="483.3" y1="365.5" x2="483.3" y2="367.2" stroke="#333" stroke-width="0.8"/>
<text x="483.3" y="376.7" font-size="8" text-anchor="middle" fill="#111">30</text>
<line x1="504.8" y1="365.5" x2="504.8" y2="367.2" stroke="#333" stroke-width="0.8"/>
<text x="504.8" y="376.7" font-size="8" text-anchor="middle" fill="#111">100</text>
<text x="417.6" y="389.3" font-size="8" text-anchor="middle" font-weight="bold" fill="#111">Antibody (µg/mL)</text>
<text x="284.6" y="294.7" font-size="8" text-anchor="middle" font-weight="bold" fill="#111" transform="rotate(-90 284.6 294.7)">Ingested RBCs (MFI)</text>
<path d="M332.8 325V345.4" stroke="#2a2a2a" stroke-width="0.85" fill="none"/>
<path d="M330.9 325H334.7M330.9 345.4H334.7" stroke="#444" stroke-width="0.75" fill="none"/>
<path d="M354.3 339.6V345.2" stroke="#2a2a2a" stroke-width="0.85" fill="none"/>
<path d="M352.4 345.2H356.2" stroke="#444" stroke-width="0.75" fill="none"/>
<path d="M375.8 339.4V347.2" stroke="#2a2a2a" stroke-width="0.85" fill="none"/>
<path d="M373.9 347.2H377.7" stroke="#444" stroke-width="0.75" fill="none"/>
<path d="M397.3 334.5V339.2" stroke="#2a2a2a" stroke-width="0.85" fill="none"/>
<path d="M395.4 339.2H399.2" stroke="#444" stroke-width="0.75" fill="none"/>
<path d="M418.8 320.1V335.3" stroke="#2a2a2a" stroke-width="0.85" fill="none"/>
<path d="M416.9 320.1H420.7M416.9 335.3H420.7" stroke="#444" stroke-width="0.75" fill="none"/>
<path d="M440.3 317.6V333.6" stroke="#2a2a2a" stroke-width="0.85" fill="none"/>
<path d="M438.4 317.6H442.2M438.4 333.6H442.2" stroke="#444" stroke-width="0.75" fill="none"/>
<path d="M483.3 318.5V330.3" stroke="#2a2a2a" stroke-width="0.85" fill="none"/>
<path d="M481.4 318.5H485.2M481.4 330.3H485.2" stroke="#444" stroke-width="0.75" fill="none"/>
<path d="M375.8 327.8V333.3" stroke="#2a2a2a" stroke-width="0.85" fill="none"/>
<path d="M373.9 327.8H377.7" stroke="#444" stroke-width="0.75" fill="none"/>
<path d="M440.3 316.7V320.8" stroke="#2a2a2a" stroke-width="0.85" fill="none"/>
<path d="M438.4 316.7H442.2" stroke="#444" stroke-width="0.75" fill="none"/>
<path d="M461.8 293.6V318.6" stroke="#2a2a2a" stroke-width="0.85" fill="none"/>
<path d="M459.9 293.6H463.7M459.9 318.6H463.7" stroke="#444" stroke-width="0.75" fill="none"/>
<path d="M483.3 282.5V318.4" stroke="#2a2a2a" stroke-width="0.85" fill="none"/>
<path d="M481.4 282.5H485.2M481.4 318.4H485.2" stroke="#444" stroke-width="0.75" fill="none"/>
<path d="M504.8 288.4V300" stroke="#2a2a2a" stroke-width="0.85" fill="none"/>
<path d="M502.9 288.4H506.7M502.9 300H506.7" stroke="#444" stroke-width="0.75" fill="none"/>
<path d="M354.3 336.4V344.4" stroke="#2a2a2a" stroke-width="0.85" fill="none"/>
<path d="M352.4 344.4H356.2" stroke="#444" stroke-width="0.75" fill="none"/>
<path d="M375.8 322.2V342.8" stroke="#2a2a2a" stroke-width="0.85" fill="none"/>
<path d="M373.9 322.2H377.7M373.9 342.8H377.7" stroke="#444" stroke-width="0.75" fill="none"/>
<path d="M397.3 318.7V323.7" stroke="#2a2a2a" stroke-width="0.85" fill="none"/>
<path d="M395.4 318.7H399.2" stroke="#444" stroke-width="0.75" fill="none"/>
<path d="M418.8 308.9V320.8" stroke="#2a2a2a" stroke-width="0.85" fill="none"/>
<path d="M416.9 308.9H420.7M416.9 320.8H420.7" stroke="#444" stroke-width="0.75" fill="none"/>
<path d="M440.3 283.8V311.8" stroke="#2a2a2a" stroke-width="0.85" fill="none"/>
<path d="M438.4 283.8H442.2M438.4 311.8H442.2" stroke="#444" stroke-width="0.75" fill="none"/>
<path d="M461.8 274.2V284.1" stroke="#2a2a2a" stroke-width="0.85" fill="none"/>
<path d="M459.9 274.2H463.7M459.9 284.1H463.7" stroke="#444" stroke-width="0.75" fill="none"/>
<path d="M483.3 249.2V275.6" stroke="#2a2a2a" stroke-width="0.85" fill="none"/>
<path d="M481.4 249.2H485.2M481.4 275.6H485.2" stroke="#444" stroke-width="0.75" fill="none"/>
<path d="M504.8 267.4V298.3" stroke="#2a2a2a" stroke-width="0.85" fill="none"/>
<path d="M502.9 267.4H506.7M502.9 298.3H506.7" stroke="#444" stroke-width="0.75" fill="none"/>
<path d="M332.8 326.7V341.6" stroke="#2a2a2a" stroke-width="0.85" fill="none"/>
<path d="M330.9 326.7H334.7M330.9 341.6H334.7" stroke="#444" stroke-width="0.75" fill="none"/>
<path d="M354.3 323.6V339" stroke="#2a2a2a" stroke-width="0.85" fill="none"/>
<path d="M352.4 323.6H356.2M352.4 339H356.2" stroke="#444" stroke-width="0.75" fill="none"/>
<path d="M375.8 307.1V318.1" stroke="#2a2a2a" stroke-width="0.85" fill="none"/>
<path d="M373.9 307.1H377.7M373.9 318.1H377.7" stroke="#444" stroke-width="0.75" fill="none"/>
<path d="M397.3 286.3V303.2" stroke="#2a2a2a" stroke-width="0.85" fill="none"/>
<path d="M395.4 286.3H399.2M395.4 303.2H399.2" stroke="#444" stroke-width="0.75" fill="none"/>
<path d="M418.8 276.8V288.4" stroke="#2a2a2a" stroke-width="0.85" fill="none"/>
<path d="M416.9 276.8H420.7M416.9 288.4H420.7" stroke="#444" stroke-width="0.75" fill="none"/>
<path d="M440.3 254.5V275.5" stroke="#2a2a2a" stroke-width="0.85" fill="none"/>
<path d="M438.4 254.5H442.2M438.4 275.5H442.2" stroke="#444" stroke-width="0.75" fill="none"/>
<path d="M461.8 248.1V274.5" stroke="#2a2a2a" stroke-width="0.85" fill="none"/>
<path d="M459.9 248.1H463.7M459.9 274.5H463.7" stroke="#444" stroke-width="0.75" fill="none"/>
<path d="M483.3 229.5V253.9" stroke="#2a2a2a" stroke-width="0.85" fill="none"/>
<path d="M481.4 229.5H485.2M481.4 253.9H485.2" stroke="#444" stroke-width="0.75" fill="none"/>
<path d="M504.8 263V289.8" stroke="#2a2a2a" stroke-width="0.85" fill="none"/>
<path d="M502.9 263H506.7M502.9 289.8H506.7" stroke="#444" stroke-width="0.75" fill="none"/>
<polyline points="332.8,335 354.3,339.6 375.8,339.4 397.3,334.5 418.8,327.7 440.3,325.6 461.8,323 483.3,324.4 504.8,312.75" fill="none" stroke="#333" stroke-width="0.85" stroke-linejoin="round"/>
<polyline points="332.8,334.4 354.3,336.4 375.8,333.2 397.3,323.7 418.8,315 440.3,297.8 461.8,279.2 483.3,262.5 504.8,282.9" fill="none" stroke="#222" stroke-width="0.85" stroke-dasharray="2,1.4" stroke-linejoin="round"/>
<polyline points="332.8,334 354.3,331.8 375.8,333.3 397.3,329.5 418.8,327.3 440.3,320.8 461.8,306 483.3,300.4 504.8,294.2" fill="none" stroke="#222" stroke-width="1.3" stroke-linejoin="round"/>
<polyline points="332.8,334.1 354.3,331.3 375.8,313.1 397.3,294.8 418.8,282.7 440.3,265.8 461.8,261.2 483.3,241.9 504.8,276.5" fill="none" stroke="#333" stroke-width="0.9" stroke-linejoin="round"/>
<circle cx="332.8" cy="335" r="2.35" fill="#111"/>
<circle cx="354.3" cy="339.6" r="2.35" fill="#111"/>
<circle cx="375.8" cy="339.4" r="2.35" fill="#111"/>
<circle cx="397.3" cy="334.5" r="2.35" fill="#111"/>
<circle cx="418.8" cy="327.7" r="2.35" fill="#111"/>
<circle cx="440.3" cy="325.6" r="2.35" fill="#111"/>
<circle cx="461.8" cy="323" r="2.35" fill="#111"/>
<circle cx="483.3" cy="324.4" r="2.35" fill="#111"/>
<circle cx="504.8" cy="312.75" r="2.35" fill="#111"/>
<rect x="330.9" y="332.1" width="3.8" height="3.8" fill="none" stroke="#444" stroke-width="0.8"/>
<rect x="352.4" y="329.9" width="3.8" height="3.8" fill="none" stroke="#444" stroke-width="0.8"/>
<rect x="373.9" y="331.4" width="3.8" height="3.8" fill="none" stroke="#444" stroke-width="0.8"/>
<rect x="395.4" y="327.6" width="3.8" height="3.8" fill="none" stroke="#444" stroke-width="0.8"/>
<rect x="416.9" y="325.4" width="3.8" height="3.8" fill="none" stroke="#444" stroke-width="0.8"/>
<rect x="438.4" y="318.9" width="3.8" height="3.8" fill="none" stroke="#444" stroke-width="0.8"/>
<rect x="459.9" y="304.1" width="3.8" height="3.8" fill="none" stroke="#444" stroke-width="0.8"/>
<rect x="481.4" y="298.5" width="3.8" height="3.8" fill="none" stroke="#444" stroke-width="0.8"/>
<rect x="502.9" y="292.3" width="3.8" height="3.8" fill="none" stroke="#444" stroke-width="0.8"/>
<polygon points="332.8,332.2 335,334.4 332.8,336.6 330.6,334.4" fill="#111"/>
<polygon points="354.3,334.2 356.5,336.4 354.3,338.6 352.1,336.4" fill="#111"/>
<polygon points="375.8,331 378,333.2 375.8,335.4 373.6,333.2" fill="#111"/>
<polygon points="397.3,321.5 399.5,323.7 397.3,325.9 395.1,323.7" fill="#111"/>
<polygon points="418.8,312.8 421,315 418.8,317.2 416.6,315" fill="#111"/>
<polygon points="440.3,295.6 442.5,297.8 440.3,300 438.1,297.8" fill="#111"/>
<polygon points="461.8,277 464,279.2 461.8,281.4 459.6,279.2" fill="#111"/>
<polygon points="483.3,260.3 485.5,262.5 483.3,264.7 481.1,262.5" fill="#111"/>
<polygon points="504.8,280.7 507,282.9 504.8,285.1 502.6,282.9" fill="#111"/>
<rect x="330.5" y="331.8" width="4.6" height="4.6" fill="#111"/>
<rect x="352" y="329" width="4.6" height="4.6" fill="#111"/>
<rect x="373.5" y="310.8" width="4.6" height="4.6" fill="#111"/>
<rect x="395" y="292.5" width="4.6" height="4.6" fill="#111"/>
<rect x="416.5" y="280.4" width="4.6" height="4.6" fill="#111"/>
<rect x="438" y="263.5" width="4.6" height="4.6" fill="#111"/>
<rect x="459.5" y="258.9" width="4.6" height="4.6" fill="#111"/>
<rect x="481" y="239.6" width="4.6" height="4.6" fill="#111"/>
<rect x="502.5" y="274.2" width="4.6" height="4.6" fill="#111"/>
<line x1="324.1" y1="227.5" x2="330.5" y2="227.5" stroke="#333" stroke-width="0.8"/>
<rect x="324.9" y="225.25" width="4.8" height="4.5" fill="#111"/>
<line x1="324.1" y1="239.4" x2="330.5" y2="239.4" stroke="#333" stroke-width="0.8"/>
<rect x="325.5" y="237.5" width="4" height="4" fill="#fff" stroke="#444" stroke-width="0.9"/>
<line x1="324.1" y1="239.5" x2="330.5" y2="239.5" stroke="#444" stroke-width="0.8"/>
<line x1="324.1" y1="256" x2="330.5" y2="256" stroke="#333" stroke-width="0.8"/>
<polygon points="327.3,253.8 329.5,256 327.3,258.2 325.1,256" fill="#111"/>
<line x1="324.1" y1="273" x2="330.5" y2="273" stroke="#333" stroke-width="0.8"/>
<circle cx="327.3" cy="273" r="2.45" fill="#111"/>
<text x="335" y="230.3" font-size="8" fill="#111">hB6H12.3</text>
<text x="335" y="242.2" font-size="8" fill="#111">SGN-CD47M</text>
<text x="335" y="253.5" font-size="8" fill="#111">MMP-cleaved</text>
<text x="335" y="263.9" font-size="8" fill="#111">SGN-CD47M</text>
<text x="335" y="275.6" font-size="8" fill="#111">Isotype</text>
</svg>
</body></html>
